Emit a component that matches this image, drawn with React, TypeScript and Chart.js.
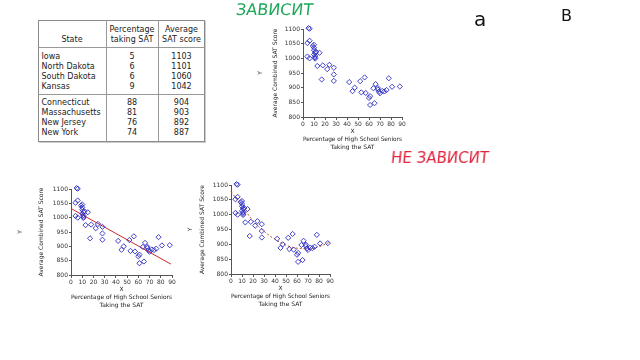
import React, { useEffect, useRef } from "react";
import { Chart, registerables } from "chart.js";
Chart.register(...registerables);

// ---- table data ----
const tableStates = ["Iowa", "North Dakota", "South Dakota", "Kansas", "Connecticut", "Massachusetts", "New Jersey", "New York"];
const tablePct = [5, 6, 6, 9, 88, 81, 76, 74];
const tableSat = [1103, 1101, 1060, 1042, 904, 903, 892, 887];

// ---- scatter data (percentage taking SAT, average combined score) ----
const pctTaking = [5, 6, 6, 9, 4, 4, 6, 10, 10, 10, 11, 10, 11, 11, 11, 12, 15, 13, 18, 24, 22, 28, 28, 17, 28, 42, 45, 47, 52, 53, 56, 57, 60, 61, 61, 64, 65, 66, 68, 68, 69, 70, 72, 74, 76, 78, 81, 88];
const satScore = [1103, 1101, 1060, 1042, 1052, 1006, 1000, 1046, 1036, 1028, 1020, 1013, 1008, 1003, 999, 1022, 1019, 974, 976, 978, 963, 968, 945, 928, 923, 919, 888, 900, 922, 884, 935, 882, 865, 871, 841, 898, 847, 912, 899, 894, 886, 881, 889, 887, 892, 932, 903, 904];

// ---- fitted line (bottom-left) ----
const fitX = [0, 89];
const fitY = [1032, 838];

// ---- fitted curve (bottom-right) ----
const curveX = [0, 10, 20, 30, 40, 50, 60, 70, 80, 89];
const curveY = [1078, 1028, 980, 944, 917, 897, 887, 885, 892, 906];

const xTicksMin = 0;
const xTicksMax = 90;
const yTicksMin = 800;
const yTicksMax = 1100;

const FONT = "'DejaVu Sans', Verdana, sans-serif";

type LineSpec = { xs: number[]; ys: number[]; color: string; dash: number[]; tension: number };

type PlotProps = {
  left: number;
  top: number;
  width: number;
  height: number;
  yAxisWidth: number;
  xAxisHeight: number;
  padTop: number;
  padRight: number;
  yTitleLH: number;
  yTitlePad: number;
  line?: LineSpec;
};

function Plot(p: PlotProps) {
  const ref = useRef<HTMLCanvasElement | null>(null);
  useEffect(() => {
    if (!ref.current) return;
    const pts = pctTaking.map((x, i) => ({ x, y: satScore[i] }));
    const datasets: any[] = [
      {
        data: pts,
        pointStyle: "rectRot",
        pointRadius: 2.6,
        pointBorderWidth: 1,
        borderColor: "rgba(45,45,195,0.9)",
        backgroundColor: "rgba(0,0,0,0)",
        showLine: false,
        clip: false,
        order: 1,
      },
    ];
    if (p.line) {
      datasets.push({
        data: p.line.xs.map((x, i) => ({ x, y: p.line!.ys[i] })),
        showLine: true,
        pointRadius: 0,
        borderColor: p.line.color,
        borderWidth: 1,
        borderDash: p.line.dash,
        tension: p.line.tension,
        fill: false,
        clip: false,
        order: 2,
      });
    }
    const tickFont = { family: FONT, size: 6 };
    const chart = new Chart(ref.current, {
      type: "scatter",
      data: { datasets },
      options: {
        animation: false,
        responsive: false,
        devicePixelRatio: 1,
        layout: { padding: { top: p.padTop, right: p.padRight, left: 0, bottom: 0 } },
        plugins: { legend: { display: false }, tooltip: { enabled: false } },
        scales: {
          x: {
            type: "linear",
            min: xTicksMin,
            max: xTicksMax,
            ticks: { stepSize: 10, font: tickFont, color: "#333", padding: 1, maxRotation: 0, autoSkip: false },
            grid: { drawOnChartArea: false, drawTicks: true, tickLength: 3, color: "#555" },
            border: { color: "#555" },
            title: {
              display: true,
              text: ["X", "Percentage of High School Seniors", "Taking the SAT"],
              font: { family: FONT, size: 6, lineHeight: 1.3 },
              color: "#222",
              padding: 0,
            },
            afterFit: (s: any) => {
              s.height = p.xAxisHeight;
            },
          },
          y: {
            type: "linear",
            min: yTicksMin,
            max: yTicksMax,
            ticks: {
              stepSize: 50,
              font: tickFont,
              color: "#333",
              padding: 1,
              callback: (v: any) => String(v),
            },
            grid: { drawOnChartArea: false, drawTicks: true, tickLength: 2, color: "#555" },
            border: { color: "#555" },
            title: {
              display: true,
              text: ["Y", "", "Average Combined SAT Score"],
              font: { family: FONT, size: 6, lineHeight: p.yTitleLH / 6 },
              color: "#222",
              padding: { top: p.yTitlePad, bottom: 0 },
            },
            afterFit: (s: any) => {
              s.width = p.yAxisWidth;
            },
          },
        },
      },
    } as any);
    return () => chart.destroy();
  }, []);
  return (
    <canvas
      ref={ref}
      width={p.width}
      height={p.height}
      style={{ position: "absolute", left: p.left, top: p.top, width: p.width, height: p.height }}
    />
  );
}

function SatTable() {
  const L = 38, T = 20, R = 205, B = 142;
  const c1 = 106, c2 = 158, hdr = 47, mid = 94;
  const txt: React.CSSProperties = {
    position: "absolute",
    fontFamily: FONT,
    fontSize: 8,
    lineHeight: "10px",
    height: 10,
    color: "#222",
    whiteSpace: "nowrap",
  };
  const rowsY = [56.7, 66.7, 76.7, 86.7, 103.3, 113.3, 123.3, 133.3];
  return (
    <div>
      <div style={{ position: "absolute", left: L, top: T, width: R - L, height: B - T, border: "1px solid #8a8a8a", boxSizing: "border-box", boxShadow: "1px 1px 0 #ccc" }} />
      <div style={{ position: "absolute", left: L, top: hdr, width: R - L, height: 1, background: "#999" }} />
      <div style={{ position: "absolute", left: L, top: mid, width: R - L, height: 1, background: "#999" }} />
      <div style={{ position: "absolute", left: c1, top: T, width: 1, height: B - T, background: "#999" }} />
      <div style={{ position: "absolute", left: c2, top: T, width: 1, height: B - T, background: "#999" }} />
      <div style={{ ...txt, left: L, width: c1 - L, textAlign: "center", top: 35 }}>State</div>
      <div style={{ ...txt, left: c1, width: c2 - c1, textAlign: "center", top: 25 }}>Percentage</div>
      <div style={{ ...txt, left: c1, width: c2 - c1, textAlign: "center", top: 35 }}>taking SAT</div>
      <div style={{ ...txt, left: c2, width: R - c2, textAlign: "center", top: 25 }}>Average</div>
      <div style={{ ...txt, left: c2, width: R - c2, textAlign: "center", top: 35 }}>SAT score</div>
      {tableStates.map((s, i) => (
        <React.Fragment key={s}>
          <div style={{ ...txt, left: 41.5, top: rowsY[i] - 5 }}>{s}</div>
          <div style={{ ...txt, left: c1, width: c2 - c1, textAlign: "center", top: rowsY[i] - 5 }}>{tablePct[i]}</div>
          <div style={{ ...txt, left: c2, width: R - c2, textAlign: "center", top: rowsY[i] - 5 }}>{tableSat[i]}</div>
        </React.Fragment>
      ))}
    </div>
  );
}

export default function App() {
  const hand: React.CSSProperties = { position: "absolute", fontFamily: FONT, whiteSpace: "nowrap", lineHeight: 1 };
  return (
    <div style={{ position: "fixed", left: 0, top: 0, width: 640, height: 360, background: "#fff", overflow: "hidden" }}>
      <SatTable />
      <Plot left={250} top={18} width={162} height={133} yAxisWidth={53} xAxisHeight={34} padTop={11} padRight={10} yTitleLH={7.5} yTitlePad={6.2} />
      <Plot left={10} top={178} width={172} height={131} yAxisWidth={61} xAxisHeight={34} padTop={11} padRight={10} yTitleLH={10.75} yTitlePad={4.6}
        line={{ xs: fitX, ys: fitY, color: "#cc2a2a", dash: [], tension: 0 }} />
      <Plot left={180} top={175} width={160} height={133} yAxisWidth={51} xAxisHeight={34} padTop={10} padRight={10} yTitleLH={6.3} yTitlePad={6.9}
        line={{ xs: curveX, ys: curveY, color: "#c0502a", dash: [2, 2], tension: 0.35 }} />
      <div style={{ ...hand, left: 236, top: 2, fontSize: 16, color: "#1ea85a", transform: "skewX(-6deg)" }}>ЗАВИСИТ</div>
      <div style={{ ...hand, left: 391, top: 151, fontSize: 15, color: "#e0203a", transform: "skewX(-6deg)" }}>НЕ ЗАВИСИТ</div>
      <div style={{ ...hand, left: 474, top: 9, fontSize: 20, color: "#111" }}>a</div>
      <div style={{ ...hand, left: 561, top: 8, fontSize: 16, color: "#111" }}>B</div>
    </div>
  );
}
